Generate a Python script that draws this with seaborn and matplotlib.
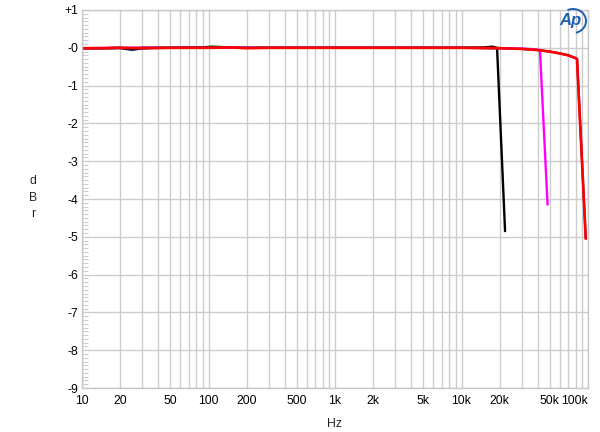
import numpy as np
import pandas as pd
import matplotlib
matplotlib.use("Agg")
import matplotlib.pyplot as plt
from matplotlib.ticker import FixedLocator, NullFormatter
from matplotlib.patches import Arc
import seaborn as sns

# ---- data ----
blue_hz = [10, 15, 20, 23, 25, 28, 35, 50, 100, 200, 500, 1000, 5000, 10000, 20000, 30000, 40000, 50000, 60000, 70000, 80000, 82000, 96000]
blue_db = [-0.01, -0.01, -0.01, -0.04, -0.06, -0.03, -0.01, 0.0, 0.0, 0.0, 0.0, 0.0, 0.0, 0.0, -0.01, -0.03, -0.06, -0.1, -0.15, -0.2, -0.27, -0.3, -5.05]
green_hz = [10, 50, 90, 105, 120, 150, 300, 1000, 10000, 20000]
green_db = [-0.01, 0.0, 0.01, 0.04, 0.03, 0.0, 0.0, 0.0, 0.0, -0.01]
black_hz = [10, 15, 20, 25, 30, 50, 100, 200, 500, 1000, 2000, 5000, 10000, 15000, 17500, 19100, 22100]
black_db = [-0.01, -0.01, 0.0, -0.03, 0.0, 0.0, 0.01, 0.0, 0.0, 0.0, 0.0, 0.0, 0.0, 0.01, 0.03, 0.0, -4.85]
magenta_hz = [10, 20, 50, 100, 200, 500, 1000, 5000, 10000, 20000, 30000, 38000, 41700, 47900]
magenta_db = [-0.01, 0.0, 0.0, 0.0, 0.0, 0.0, 0.0, 0.0, 0.0, -0.01, -0.02, -0.04, -0.06, -4.15]
red_hz = [10, 15, 20, 30, 50, 70, 100, 150, 200, 300, 500, 1000, 2000, 5000, 10000, 20000, 30000, 40000, 50000, 60000, 70000, 81800, 96000]
red_db = [-0.01, -0.01, 0.0, -0.01, 0.0, 0.0, 0.0, 0.01, -0.01, 0.0, 0.0, 0.0, 0.0, 0.0, 0.0, -0.01, -0.03, -0.06, -0.1, -0.15, -0.2, -0.29, -5.05]

y_ticks = [1, 0, -1, -2, -3, -4, -5, -6, -7, -8, -9]
y_labels = ["+1", "-0", "-1", "-2", "-3", "-4", "-5", "-6", "-7", "-8", "-9"]
x_ticks = [10, 20, 50, 100, 200, 500, 1000, 2000, 5000, 10000, 20000, 50000, 100000]
x_labels = ["10", "20", "50", "100", "200", "500", "1k", "2k", "5k", "10k", "20k", "50k", "100k"]

series = [
    ("blue", blue_hz, blue_db, "#1f2f8f", 1.6),
    ("green", green_hz, green_db, "#3a9a2a", 1.6),
    ("black", black_hz, black_db, "#000000", 1.7),
    ("magenta", magenta_hz, magenta_db, "#ff00ff", 1.7),
    ("red", red_hz, red_db, "#ff0000", 1.9),
]

frames = []
for name, hz, db, _, _ in series:
    frames.append(pd.DataFrame({"Hz": hz, "dBr": db, "trace": name}))
df = pd.concat(frames, ignore_index=True)

sns.set_style("white")
plt.rcParams["font.family"] = ["Liberation Sans", "DejaVu Sans"]

fig = plt.figure(figsize=(6.0, 4.32), dpi=100)
ax = fig.add_axes([82 / 600, 44 / 432, 506 / 600, 378 / 432])

for name, hz, db, color, lw in series:
    sns.lineplot(data=df[df["trace"] == name], x="Hz", y="dBr", ax=ax,
                 color=color, linewidth=lw, sort=False, estimator=None, legend=False)

ax.set_xscale("log")
ax.set_xlim(10, 100000)
ax.set_ylim(-9, 1)

# grid
minor_x = [m * 10 ** d for d in range(1, 5) for m in range(2, 10)]
ax.xaxis.set_minor_locator(FixedLocator(minor_x))
ax.xaxis.set_minor_formatter(NullFormatter())
ax.set_xticks(x_ticks)
ax.set_xticklabels(x_labels)
ax.set_yticks(y_ticks)
ax.set_yticklabels(y_labels)
ax.set_yticks(np.arange(-9, 1.001, 0.1), minor=True)
ax.grid(True, which="major", axis="both", color="#cccccc", linewidth=1.0)
ax.grid(True, which="minor", axis="x", color="#cccccc", linewidth=1.0)
ax.set_axisbelow(True)

fs = 8.8
ax.tick_params(axis="x", which="both", length=0, labelsize=fs, pad=5, colors="#000000")
ax.tick_params(axis="y", which="major", length=0, labelsize=fs, pad=2.5, colors="#000000")
ax.tick_params(axis="y", which="minor", direction="in", length=4, width=0.8, color="#cccccc", left=True)
for lbl in ax.get_xticklabels():
    if lbl.get_text() == "100k":
        lbl.set_horizontalalignment("right")

for s in ax.spines.values():
    s.set_color("#c8c8c8")
    s.set_linewidth(1.0)

ax.set_xlabel("Hz", fontsize=fs, labelpad=8)
ax.set_ylabel("")
fig.text(33 / 600, 1 - 198 / 432, "d\nB\nr", ha="center", va="center", fontsize=fs, linespacing=1.5)

# Ap logo
fig.text(570 / 600, 1 - 21 / 432, "Ap", ha="center", va="center", fontsize=12,
         color="#1f5fae", style="italic", fontweight="bold")
arc = Arc((573 / 600, 1 - 21 / 432), 26 / 600, 24 / 432, theta1=-80, theta2=110,
          transform=fig.transFigure, color="#1f5fae", linewidth=1.4)
fig.add_artist(arc)

fig.savefig("out.png", dpi=100)
